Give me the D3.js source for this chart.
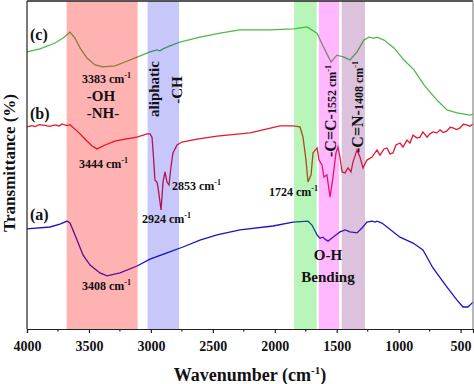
<!DOCTYPE html>
<html><head><meta charset="utf-8">
<script src="https://cdn.jsdelivr.net/npm/d3@7"></script>
<style>body{margin:0;background:#fff}svg{display:block}text{font-family:"Liberation Serif","Times New Roman",serif;font-weight:bold;fill:#111}</style>
</head><body><svg id="c" width="474" height="384"></svg>
<script>
// ---- data ----
const xTicks = [4000, 3500, 3000, 2500, 2000, 1500, 1000, 500];
const xMinor = [3750, 3250, 2750, 2250, 1750, 1250, 750];

const waveC = [4000,3895,3774,3709,3653,3613,3572,3516,3451,3387,3290,3209,3112,3007,2951,2926,2902,2846,2765,2604,2442,2281,2039,1845,1740,1659,1603,1546,1498,1441,1393,1336,1280,1240,1199,1175,1118,1038,957,876,796,691,610,529,424,400];
const transC = [84.5,85.4,87.2,88.7,90.5,88.7,85.7,82.6,80.5,79.9,80.2,81.4,82.9,84.5,85.1,84.8,85.4,86.3,87.5,89.0,90.2,91.2,91.2,91.5,92.1,90.2,85.7,81.4,83.5,82.9,82.0,84.5,88.1,89.0,88.7,89.0,88.1,85.7,82.0,79.0,74.4,69.8,66.8,65.9,65.2,65.5];

const waveB = [4000,3960,3935,3900,3855,3815,3774,3740,3717,3680,3653,3588,3524,3475,3435,3370,3290,3209,3112,3031,3007,2991,2983,2967,2951,2943,2918,2902,2886,2870,2854,2838,2822,2789,2749,2628,2466,2200,1958,1853,1796,1772,1748,1732,1707,1691,1659,1643,1619,1603,1579,1554,1530,1506,1490,1474,1457,1433,1409,1385,1369,1336,1312,1288,1256,1215,1175,1151,1118,1094,1070,1046,1022,989,965,933,909,884,852,828,804,771,747,723,691,666,640,610,585,561,533,505,478,451,425,400];
const transB = [61.6,62.0,61.7,62.3,62.1,61.8,62.2,61.9,62.5,62.0,62.3,60.1,57.6,55.8,54.9,56.1,57.3,57.9,58.5,59.5,59.5,58.5,54.6,45.4,44.8,43.3,36.3,44.8,47.9,44.8,43.9,49.4,53.7,56.1,57.0,57.9,58.8,59.8,61.9,61.9,61.6,58.5,51.5,44.8,47.0,53.7,55.2,51.5,50.0,46.3,47.0,40.2,46.3,53.7,55.5,52.4,47.9,47.6,49.1,47.9,50.9,54.6,52.4,49.1,51.5,52.4,54.6,53.0,54.9,55.2,53.4,53.7,56.1,56.7,55.5,57.6,56.7,59.1,58.2,58.5,60.1,58.5,59.5,60.1,59.8,60.7,59.9,60.4,61.5,61.3,60.8,61.3,62.4,62.2,61.8,62.5];

const waveA = [4000,3814,3734,3677,3653,3629,3596,3548,3491,3411,3354,3249,3112,3007,2870,2741,2604,2466,2281,2014,1853,1732,1700,1659,1635,1611,1595,1570,1530,1474,1433,1393,1336,1296,1256,1215,1191,1175,1135,1094,989,884,804,723,610,529,481,441,400];
const transA = [30.5,31.1,32.0,32.9,32.3,30.2,27.1,22.6,19.5,17.1,16.2,17.1,19.2,21.3,23.2,25.0,27.1,28.7,30.2,31.4,32.6,32.9,31.7,28.7,27.7,28.0,27.4,26.8,28.0,29.6,30.2,29.6,29.3,30.8,32.6,32.9,32.6,32.9,32.3,31.1,28.0,26.2,24.1,18.6,12.8,8.8,6.7,6.7,8.2];

const bandFrom = [3680, 3027, 1844, 1645, 1460];
const bandTo   = [3107, 2772, 1661, 1481, 1272];
const bandColors = ["rgba(255,0,0,0.3)","rgba(0,0,230,0.22)","rgba(0,220,0,0.28)","rgba(255,0,255,0.28)","rgba(128,30,128,0.27)"];

// ---- chart ----
const svg = d3.select("#c");
const L = 27, R = 473, T = 1, B = 329;
const x = d3.scaleLinear().domain([4000, 400]).range([L, R]);
const y = d3.scaleLinear().domain([0, 100]).range([B, T]);
const line = d3.line().x(d => x(d[0])).y(d => y(d[1]));

const series = [
  {w: waveC, t: transC, color: "#52b848"},
  {w: waveB, t: transB, color: "#e3192d"},
  {w: waveA, t: transA, color: "#1616c8"}
];
series.forEach(s => {
  svg.append("path").datum(s.w.map((w, i) => [w, s.t[i]]))
    .attr("d", line).attr("fill", "none").attr("stroke", s.color).attr("stroke-width", 1.3);
});

bandFrom.forEach((f, i) => {
  svg.append("rect").attr("x", x(f)).attr("y", T).attr("width", x(bandTo[i]) - x(f)).attr("height", B - T)
    .attr("fill", bandColors[i]);
});

// frame
svg.append("line").attr("x1", L).attr("x2", R).attr("y1", T).attr("y2", T).attr("stroke", "#222").attr("stroke-width", 1.6);
svg.append("line").attr("x1", R).attr("x2", R).attr("y1", T).attr("y2", B).attr("stroke", "#888").attr("stroke-width", 1.2);
svg.append("line").attr("x1", L).attr("x2", L).attr("y1", T).attr("y2", B).attr("stroke", "#222").attr("stroke-width", 1.2);

const ax = svg.append("g").attr("transform", `translate(0,${B})`)
  .call(d3.axisBottom(x).tickValues(xTicks).tickSize(4).tickPadding(8).tickFormat(d3.format("d")));
ax.select(".domain").attr("stroke", "#222").attr("stroke-width", 1.2);
ax.selectAll(".tick line").attr("stroke", "#222").attr("stroke-width", 1.2);
ax.selectAll(".tick text").attr("font-size", 14).attr("fill", "#111")
  .attr("font-family", "Liberation Serif, serif").attr("font-weight", "bold");
svg.append("g").selectAll("line").data(xMinor).join("line")
  .attr("x1", d => x(d)).attr("x2", d => x(d)).attr("y1", B).attr("y2", B + 2.5)
  .attr("stroke", "#222").attr("stroke-width", 1.2);

// axis titles
const xt = svg.append("text").attr("x", 250).attr("y", 381).attr("text-anchor", "middle").attr("font-size", 18);
xt.append("tspan").text("Wavenumber (cm");
xt.append("tspan").text("-1").attr("font-size", 11).attr("dy", -7);
xt.append("tspan").text(")").attr("dy", 7);

svg.append("text").attr("transform", "translate(15,163) rotate(-90)").attr("text-anchor", "middle")
  .attr("font-size", 17).text("Transmittance (%)");

// labels
function cmLabel(px, py, num, size) {
  const t = svg.append("text").attr("x", px).attr("y", py).attr("font-size", size || 12);
  t.append("tspan").text(num + " cm");
  t.append("tspan").text("-1").attr("font-size", 8).attr("dy", -5);
  return t;
}
cmLabel(82, 83, "3383");
cmLabel(79, 168, "3444");
cmLabel(172, 190, "2853");
cmLabel(142, 223, "2924");
cmLabel(82, 290, "3408");
cmLabel(269, 196, "1724");

[["(c)", 30, 40], ["(b)", 30, 119], ["(a)", 30, 220]].forEach(d => {
  svg.append("text").attr("x", d[1]).attr("y", d[2]).attr("font-size", 16).text(d[0]);
});
[["-OH", 101, 101], ["-NH-", 103, 118], ["O-H", 328, 260], ["Bending", 328, 282]].forEach(d => {
  svg.append("text").attr("x", d[1]).attr("y", d[2]).attr("text-anchor", "middle").attr("font-size", 15).text(d[0]);
});
svg.append("text").attr("transform", "translate(159,89) rotate(-90)").attr("text-anchor", "middle").attr("font-size", 15).text("aliphatic");
svg.append("text").attr("transform", "translate(182,90) rotate(-90)").attr("text-anchor", "middle").attr("font-size", 15).text("-CH");

function rotLabel(px, py, big, num) {
  const t = svg.append("text").attr("transform", `translate(${px},${py}) rotate(-90)`);
  t.append("tspan").text(big).attr("font-size", 16);
  t.append("tspan").text(num + " cm").attr("font-size", 12);
  t.append("tspan").text("-1").attr("font-size", 8).attr("dy", -5);
}
rotLabel(336, 157, "-C=C-", "1552");
rotLabel(363, 153, "-C=N-", "1408");
</script></body></html>
